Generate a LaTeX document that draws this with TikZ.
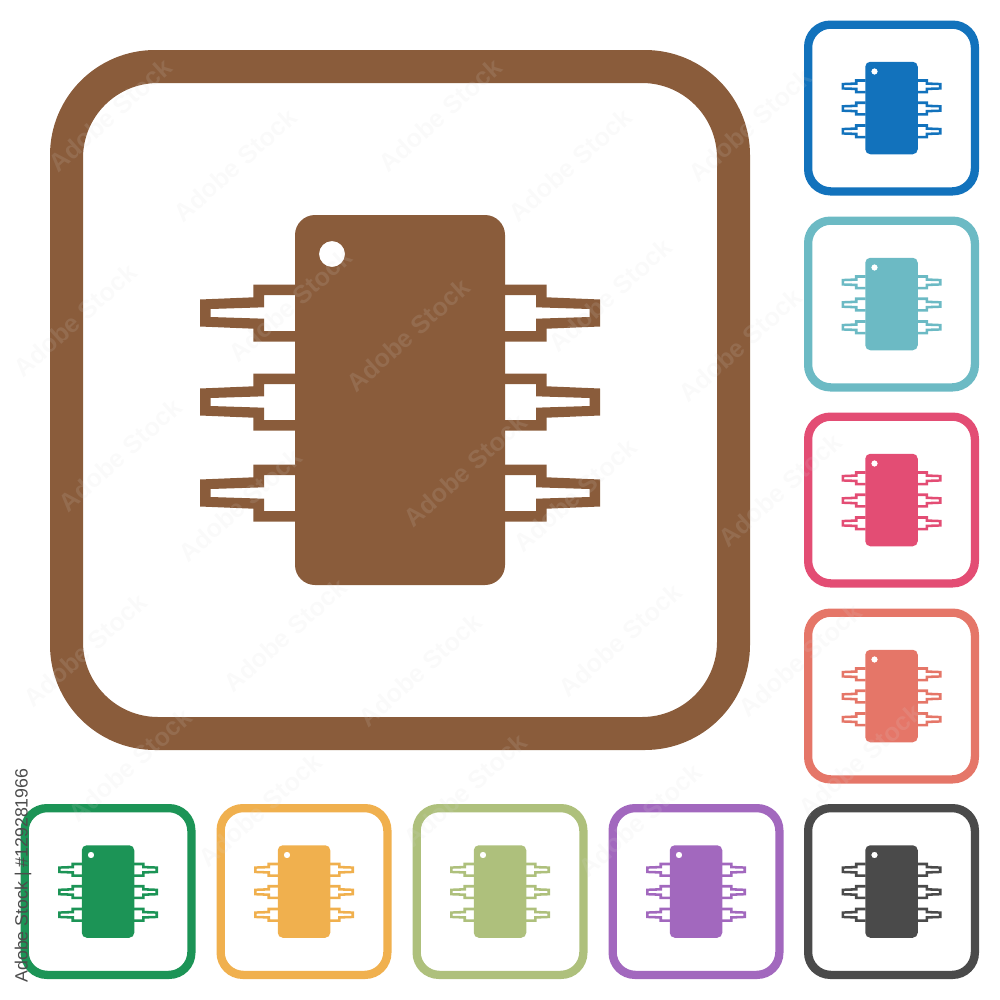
\documentclass[tikz,border=0pt]{standalone}
\usepackage{fontspec}
\setmainfont{Liberation Sans}

\definecolor{iconbrown}{HTML}{8A5C3B}
\definecolor{iconblue}{HTML}{1272BC}
\definecolor{iconteal}{HTML}{6CBAC4}
\definecolor{iconpink}{HTML}{E34D74}
\definecolor{iconsalmon}{HTML}{E57668}
\definecolor{icongreen}{HTML}{1C9456}
\definecolor{iconorange}{HTML}{F0B04E}
\definecolor{iconlime}{HTML}{AEC07C}
\definecolor{iconpurple}{HTML}{A268BE}
\definecolor{icondark}{HTML}{4A4A4A}

\tikzset{
    watermark/.style = {font=\bfseries\fontsize{7.2}{8}\selectfont, text=gray!30, opacity=0.13, rotate=42, inner sep=0pt},
    stamp/.style     = {font=\fontsize{5.05}{6}\selectfont, text=black!70, rotate=90},
}

% #1,#2 centre, #3 scale, #4 colour
\newcommand{\chipicon}[4]{
    \begin{scope}[shift={(#1,#2)}, scale=#3, fill=#4]
        \fill[even odd rule]
            {[rounded corners=#3*1.05cm] (-350,-350) rectangle (350,350)}
            {[rounded corners=#3*0.75cm] (-317,-317) rectangle (317,317)};
        \fill[even odd rule]
            {[rounded corners=#3*0.2cm] (-105,-185) rectangle (105,185)}
            (-68,-146) circle (13);
        \foreach \side in {1,-1}
            \foreach \pinY in {-87,2,93}
                \fill[shift={(0,\pinY)}, xscale=\side]
                    (-104,-28.5) -- (-146.7,-28.5) -- (-146.7,-15.7) -- (-200,-13.5)
                    -- (-200,13.5) -- (-146.7,15.7) -- (-146.7,28.5) -- (-104,28.5)
                    -- (-104,18) -- (-136,18) -- (-136,5.7) -- (-189.5,4)
                    -- (-189.5,-4) -- (-136,-5.7) -- (-136,-18) -- (-104,-18) -- cycle;
    \end{scope}
}

\begin{document}
\begin{tikzpicture}[x=0.01cm, y=-0.01cm]
    \useasboundingbox (0,0) rectangle (1000,1000);

    \chipicon{400}{400}{1}{iconbrown}

    \chipicon{891.5}{108}{0.25}{iconblue}
    \chipicon{891.5}{304}{0.25}{iconteal}
    \chipicon{891.5}{500}{0.25}{iconpink}
    \chipicon{891.5}{696}{0.25}{iconsalmon}
    \chipicon{891.5}{891.5}{0.25}{icondark}

    \chipicon{108}{891.5}{0.25}{icongreen}
    \chipicon{304}{891.5}{0.25}{iconorange}
    \chipicon{500}{891.5}{0.25}{iconlime}
    \chipicon{696}{891.5}{0.25}{iconpurple}

    % faint diagonal marks
    \foreach \wmX/\wmY [count=\wmN] in {
        110/115, 235/165, 440/115, 570/165, 750/125,
        75/320, 290/305, 408/335, 610/295, 740/345,
        120/455, 465/470, 575/495, 240/505, 780/490,
        85/650, 285/635, 420/670, 620/640, 800/660,
        130/765, 260/810, 465/790, 640/820, 860/760}
        \node[watermark] (wm\wmN) at (\wmX,\wmY) {Adobe Stock};

    \node[stamp] (stock) at (23,875.5) {Adobe Stock | \#129281966};
\end{tikzpicture}
\end{document}
